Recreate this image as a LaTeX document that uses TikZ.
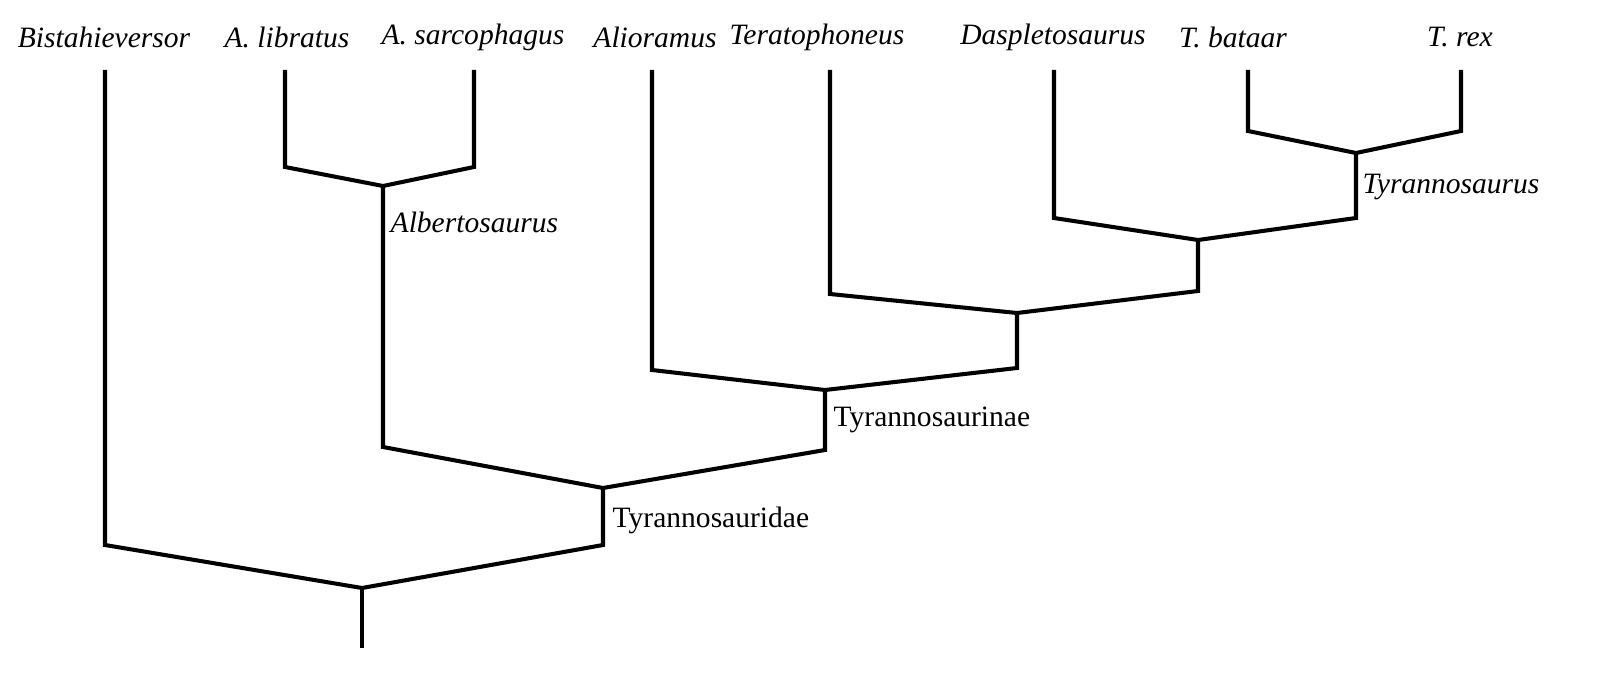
\documentclass[tikz,border=0pt]{standalone}
\usepackage{fontspec}
\setmainfont{Liberation Serif}
\begin{document}
\begin{tikzpicture}[x=0.01cm,y=-0.01cm,
  br/.style={line width=1.15pt,line join=miter},
  tx/.style={font=\fontsize{8.4}{10}\selectfont\itshape,inner sep=0pt},
  cl/.style={font=\fontsize{8.4}{10}\selectfont,inner sep=0pt,anchor=west}]
\useasboundingbox (0,0) rectangle (1600,673);
% leaves
\node[tx] (bis) at (104,37) {Bistahieversor};
\node[tx] (lib) at (287,37) {A. libratus};
\node[tx] (sar) at (473,37) {A. sarcophagus};
\node[tx] (ali) at (655,37) {Alioramus};
\node[tx] (ter) at (817,37) {Teratophoneus};
\node[tx] (das) at (1053,37) {Daspletosaurus};
\node[tx] (bat) at (1233,37) {T. bataar};
\node[tx] (rex) at (1460,37) {T. rex};
% clade labels
\node[tx,anchor=west] (alb) at (390,222) {Albertosaurus};
\node[tx,anchor=west] (tyr) at (1362,187) {Tyrannosaurus};
\node[cl] (tne) at (833,420) {Tyrannosaurinae};
\node[cl] (tdae) at (612,520) {Tyrannosauridae};
% branches
\draw[br] (1248,70) -- (1248,131) -- (1356,153) -- (1461,131) -- (1461,70);
\draw[br] (1356,153) -- (1356,218) -- (1198,240) -- (1054,218) -- (1054,70);
\draw[br] (1198,240) -- (1198,291) -- (1017,313) -- (830,294) -- (830,70);
\draw[br] (1017,313) -- (1017,368) -- (825,390) -- (652,370) -- (652,70);
\draw[br] (825,390) -- (825,450) -- (603,488) -- (383,447) -- (383,186);
\draw[br] (285,70) -- (285,167) -- (383,186) -- (474,167) -- (474,70);
\draw[br] (603,488) -- (603,545) -- (362,588) -- (105,545) -- (105,70);
\draw[br] (362,588) -- (362,648);
\end{tikzpicture}
\end{document}
